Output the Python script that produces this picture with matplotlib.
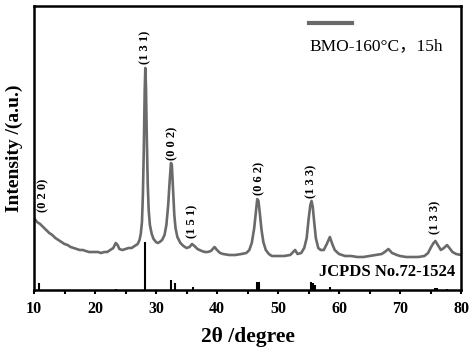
import matplotlib
matplotlib.use('Agg')
import matplotlib.pyplot as plt
from matplotlib.ticker import MultipleLocator

# measured XRD pattern (2theta, intensity a.u.)
two_theta = [10, 10.5, 11, 11.5, 12, 12.5, 13, 13.5, 14, 14.5, 15, 15.5, 16, 16.5,
             17, 17.5, 18, 18.5, 19, 19.5, 20, 20.5, 21, 21.5, 22, 22.5, 23, 23.4,
             23.7, 24, 24.5, 25, 25.5, 26, 26.5, 27, 27.3, 27.5, 27.7, 27.85, 28.0,
             28.15, 28.25, 28.35, 28.5, 28.65, 28.8, 29.0, 29.3, 29.6, 30, 30.3, 30.6,
             31, 31.4, 31.7, 32.0, 32.2, 32.45, 32.6, 32.8, 33.0, 33.2, 33.5, 34, 34.5,
             35, 35.5, 35.9, 36.3, 36.8, 37.5, 38, 38.5, 39, 39.6, 40, 40.5, 41, 42, 43,
             44, 44.8, 45.3, 45.7, 46.1, 46.4, 46.6, 46.8, 47.0, 47.3, 47.6, 48, 48.5,
             49, 50, 51, 52, 52.8, 53.2, 53.8, 54.3, 54.7, 55.0, 55.3, 55.5, 55.7,
             55.9, 56.2, 56.6, 57.0, 57.5, 58.0, 58.5, 58.9, 59.3, 60, 61, 62, 63, 64,
             65, 66, 67, 67.5, 68.1, 68.7, 69.5, 70, 71, 72, 73, 74, 74.6, 75.1, 75.5,
             75.8, 76.2, 76.7, 77.2, 77.7, 78.1, 78.6, 79.2, 80]
intensity = [72, 68, 66, 63, 60, 57, 55, 52, 50, 48, 46, 45, 43, 42,
             41, 40, 40, 39, 38, 38, 38, 38, 37, 38, 38, 40, 42, 47,
             45, 41, 40, 41, 42, 42, 44, 46, 50, 56, 68, 95, 140,
             200, 222, 205, 150, 105, 80, 65, 56, 51, 48, 47, 48,
             50, 55, 65, 85, 105, 127, 125, 100, 75, 62, 53, 47, 44,
             42, 43, 46, 44, 41, 39, 38, 38, 39, 43, 40, 37, 36, 35, 35,
             36, 37, 40, 47, 62, 80, 91, 89, 78, 60, 48, 40, 36,
             34, 34, 34, 35, 40, 36, 37, 42, 52, 70, 85, 89, 83,
             70, 52, 42, 40, 40, 46, 53, 46, 40, 36, 34, 34, 33, 33,
             34, 35, 36, 38, 41, 37, 35, 34, 33, 33, 33, 34, 37, 43, 47,
             49, 45, 40, 42, 45, 42, 38, 36, 35]

# JCPDS No.72-1524 reference lines
ref_pos = [10.9, 23.4, 28.25, 32.5, 33.1, 36.0, 46.6, 46.9, 55.4, 55.7, 56.0, 58.5, 75.7, 76.0, 77.7]
ref_height = [7, 1.5, 48, 10, 7, 3, 8, 8, 8, 7, 5, 3, 2, 2, 1.5]

# peak indices
hkl = ['(0 2 0)', '(1 3 1)', '(0 0 2)', '(1 5 1)', '(0 6 2)', '(1 3 3)', '(1 3 3)']
hkl_x = [11.5, 28.2, 32.6, 36.0, 46.9, 55.5, 75.8]
hkl_y = [95, 243, 147, 69, 112, 109, 73]

serif = ['Liberation Serif', 'DejaVu Serif']

fig = plt.figure(figsize=(4.74, 3.48), dpi=100)
ax = fig.add_axes([34/474, 58/348, 427/474, 284/348])

ax.plot(two_theta, intensity, color='#6a6a6a', lw=1.9)
ax.vlines(ref_pos, 0, ref_height, color='black', lw=1.5)

for lab, x, y in zip(hkl, hkl_x, hkl_y):
    ax.text(x, y, lab, rotation=90, ha='center', va='center', fontsize=9,
            fontweight='bold', family=serif)

# legend sample
ax.plot([0.643, 0.745], [0.939, 0.939], transform=ax.transAxes, color='#6a6a6a', lw=3)
ax.text(0.646, 0.859, 'BMO-160°C，15h', transform=ax.transAxes, ha='left', va='center',
        fontsize=12.5, family=['Liberation Serif', 'Noto Sans CJK SC'])
ax.text(0.827, 0.063, 'JCPDS No.72-1524', transform=ax.transAxes, ha='center', va='center',
        fontsize=12, fontweight='bold', family=serif)

ax.set_xlim(10, 80)
ax.set_ylim(0, 284)
ax.set_yticks([])
ax.xaxis.set_major_locator(MultipleLocator(10))
ax.xaxis.set_minor_locator(MultipleLocator(5))
ax.tick_params(axis='x', which='both', direction='out', length=3, width=1.5, pad=5)
for lbl in ax.get_xticklabels():
    lbl.set_fontfamily(serif)
    lbl.set_fontweight('bold')
    lbl.set_fontsize(11.5)
for sp in ax.spines.values():
    sp.set_linewidth(1.8)

ax.set_xlabel('2θ /degree', fontsize=15.5, fontweight='bold', family=serif, labelpad=7)
ax.set_ylabel('Intensity /(a.u.)', fontsize=14, fontweight='bold', family=serif)
ax.yaxis.set_label_coords(-0.026, 0.5)

plt.savefig('out.png', dpi=100)
